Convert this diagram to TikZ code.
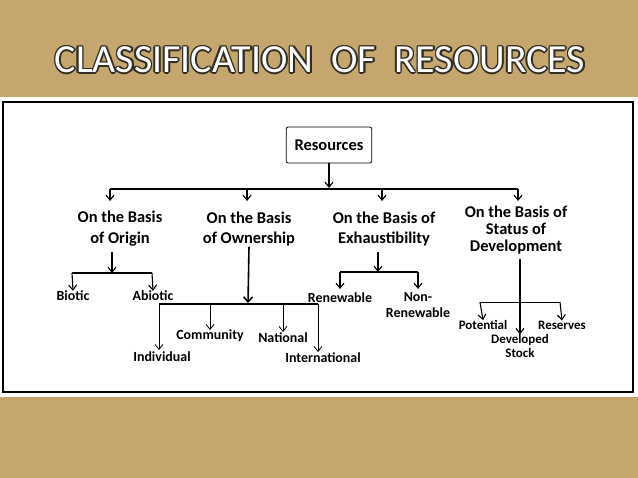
\documentclass[tikz,border=0pt]{standalone}
\usepackage{fontspec}
\setmainfont{Carlito}
\usetikzlibrary{arrows.meta}
\begin{document}
\begin{tikzpicture}[x=1bp,y=-1bp,
  lab/.style={font=\bfseries\fontsize{16.5}{21}\selectfont,align=center,inner sep=0pt},
  sm/.style={font=\bfseries\fontsize{14}{16}\selectfont,align=center,inner sep=0pt},
  ln/.style={line width=1.3pt},
  ar/.style={line width=1.1pt,->,>={Straight Barb[length=5pt,width=8pt]}}]
\fill[fill={rgb,255:red,196;green,166;blue,110}] (0,0) rectangle (638,478);
\fill[white] (0,97) rectangle (638,397);
\draw[line width=2.4pt] (3,102) rectangle (633,392);
% title
\foreach \dx/\dy in {-1.6/0,1.6/0,0/-1.6,0/1.6,-1.2/-1.2,1.2/1.2,-1.2/1.2,1.2/-1.2}
  \node[font=\fontsize{40}{44}\selectfont,text={rgb,255:red,50;green,45;blue,35}] at (320+\dx,60+\dy) {CLASSIFICATION\ \ OF\ \ RESOURCES};
\node[font=\fontsize{40}{44}\selectfont,text=white] (title) at (320,60) {CLASSIFICATION\ \ OF\ \ RESOURCES};
% root
\node[lab,draw,line width=0.8pt,rounded corners=2pt,minimum width=86pt,minimum height=36pt] (res) at (329,145) {Resources};
\draw[ar] (res.south) -- (329,188);
\draw[ln] (110,189) -- (518,189);
\node[lab] (org) at (120,229) {On the Basis\\of Origin};
\node[lab] (own) at (249,229) {On the Basis\\of Ownership};
\node[lab] (exh) at (384,229) {On the Basis of\\Exhaustibility};
\node[lab,font=\bfseries\fontsize{16.5}{17}\selectfont] (sta) at (516,230) {On the Basis of\\Status of\\Development};
\foreach \x in {110,247,382,518}
  \draw[ar] (\x,189) -- (\x,201);
% origin
\node[sm] (bio) at (73,296) {Biotic};
\node[sm] (abi) at (153,296) {Abiotic};
\draw[ar] (112,252) -- (112,273);
\draw[ln] (72,273) -- (152,273);
\draw[ar] (72,273) -- (bio.north);
\draw[ar] (152,273) -- (abi.north);
% ownership
\node[sm] (ind) at (162,357) {Individual};
\node[sm] (com) at (210,336) {Community};
\node[sm] (nat) at (283,338) {National};
\node[sm] (int) at (323,358) {International};
\draw[line width=1.6pt,->,>={Straight Barb[length=5pt,width=9pt]}] (own.south) -- (248,303);
\draw[ln] (159,304) -- (318,304);
\draw[ar,line width=0.8pt] (159,304) -- (159,350);
\draw[ar,line width=0.8pt] (210,304) -- (210,330);
\draw[ar,line width=0.8pt] (283,304) -- (283,332);
\draw[ar,line width=0.8pt] (318,304) -- (318,352);
% exhaustibility
\node[sm] (ren) at (340,298) {Renewable};
\node[sm] (non) at (418,305) {Non-\\Renewable};
\draw[ar] (378,252) -- (378,272);
\draw[ln] (340,272) -- (418,272);
\draw[ar] (340,272) -- (340,289);
\draw[ar] (418,272) -- (418,289);
% status
\node[sm,font=\bfseries\fontsize{13}{14}\selectfont] (pot) at (483,325) {Potential};
\node[sm,font=\bfseries\fontsize{13}{14}\selectfont] (resv) at (562,325) {Reserves};
\node[sm,font=\bfseries\fontsize{13}{14}\selectfont] (dev) at (520,346) {Developed\\Stock};
\draw[line width=1pt] (480,302) -- (560,302);
\draw[ar] (520,259) -- (dev.north);
\draw[ar] (480,302) -- (pot.north);
\draw[ar] (560,302) -- (resv.north);
\end{tikzpicture}
\end{document}
